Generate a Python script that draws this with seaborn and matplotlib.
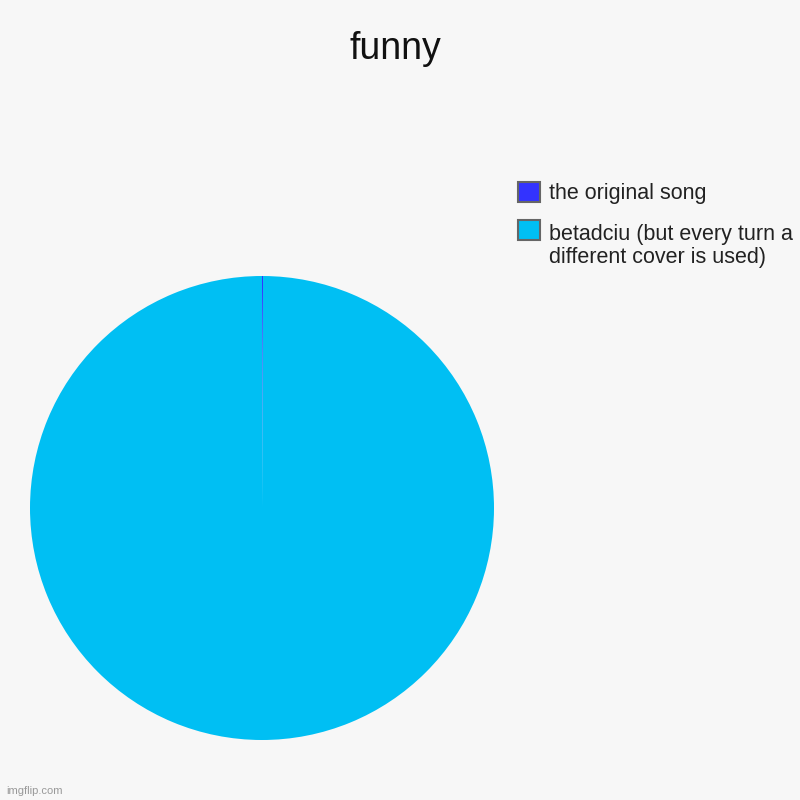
import matplotlib
matplotlib.use("Agg")
import matplotlib.pyplot as plt
import matplotlib.patches as mpatches
from matplotlib.legend_handler import HandlerPatch
import seaborn as sns

# data
labels = ["the original song", "betadciu (but every turn a\ndifferent cover is used)"]
values = [1, 1400]
colors = ["#3333ff", "#00bff3"]
title = "funny"

sns.set_theme(style="white")
plt.rcParams["font.family"] = ["Liberation Sans", "DejaVu Sans"]

BG = "#f7f7f7"
fig = plt.figure(figsize=(8, 8), dpi=100, facecolor=BG)
ax = fig.add_axes([30 / 800, 60 / 800, 464 / 800, 464 / 800])
ax.set_facecolor(BG)

ax.pie(
    values,
    colors=colors,
    startangle=90,
    counterclock=False,
    wedgeprops=dict(linewidth=0),
)
ax.set_xlim(-1, 1)
ax.set_ylim(-1, 1)
ax.set_aspect("equal")

fig.text(395 / 800, 1 - 49 / 800, title, ha="center", va="center", fontsize=27, color="#111111")

handles = [
    mpatches.Patch(facecolor=c, edgecolor="#666666", linewidth=1.5, label=l)
    for c, l in zip(colors, labels)
]


# keep the square next to the first line of a wrapped label
def top_aligned(legend, orig_handle, xdescent, ydescent, width, height, fontsize):
    return mpatches.Rectangle((-xdescent, -ydescent + 12.2), width, height)


leg = fig.legend(
    handles=handles,
    loc="upper left",
    bbox_to_anchor=(499 / 800, 1 - 163 / 800),
    frameon=False,
    fontsize=15.5,
    handlelength=1.0,
    handleheight=1.0,
    handletextpad=0.4,
    labelspacing=0.93,
    labelcolor="#222222",
    handler_map={handles[1]: HandlerPatch(patch_func=top_aligned)},
)
for t in leg.get_texts():
    t.set_linespacing(1.12)

fig.text(6 / 800, 1 - 791 / 800, "imgflip.com", ha="left", va="center", fontsize=8, color="#999999")

fig.savefig("out.png", dpi=100, facecolor=BG)
